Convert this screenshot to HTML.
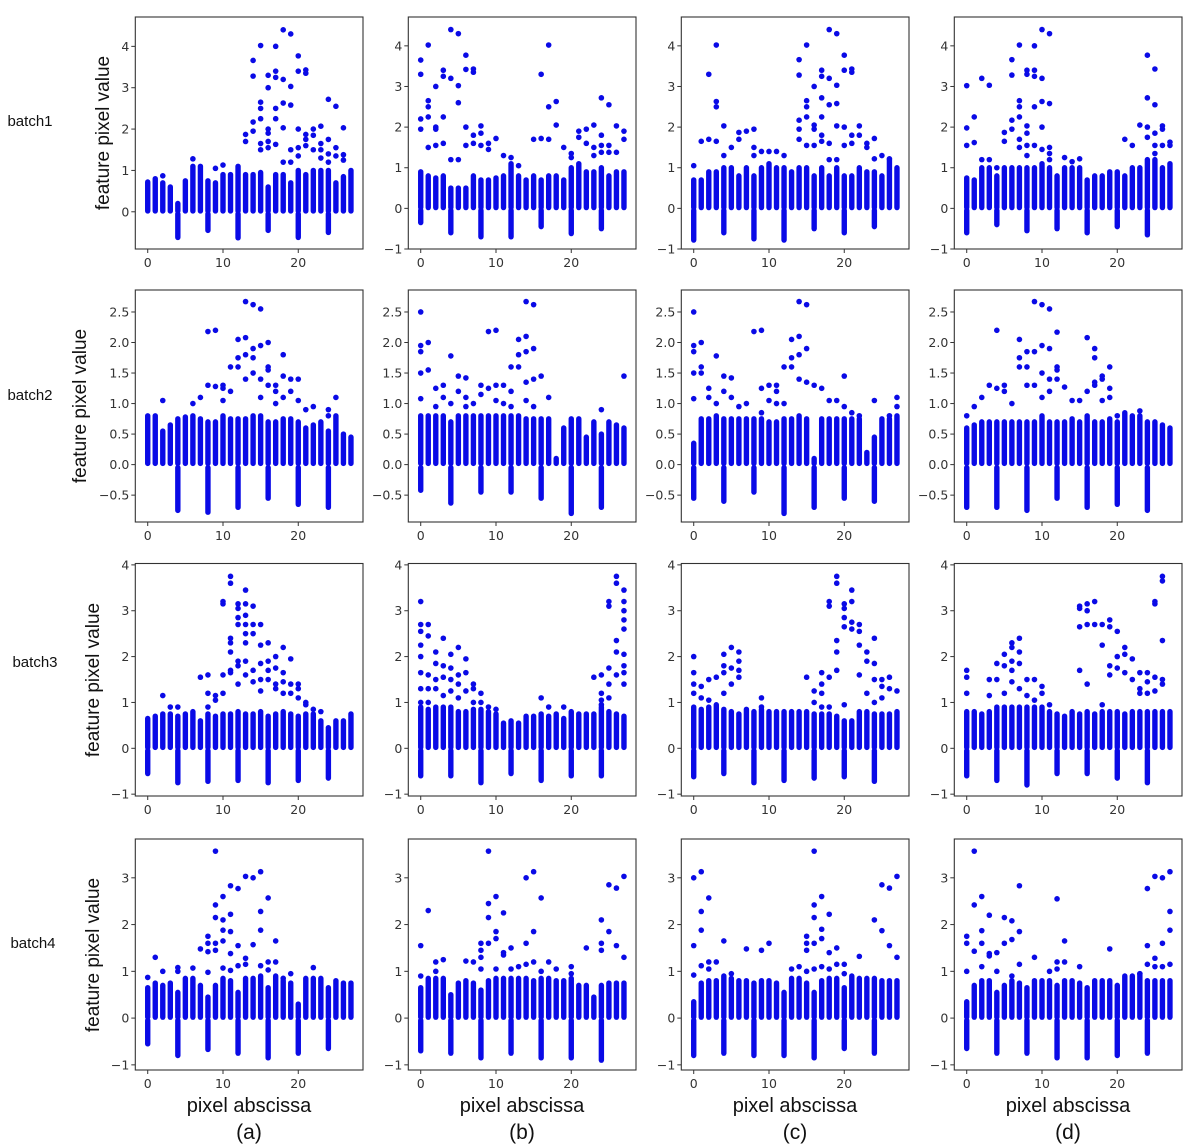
<!DOCTYPE html>
<html><head><meta charset="utf-8"><style>
html,body{margin:0;padding:0;background:#fff;}
svg{display:block;font-family:"DejaVu Sans","Liberation Sans",sans-serif;}
</style></head><body>
<svg id="fig" width="1200" height="1146" viewBox="0 0 1200 1146" xmlns="http://www.w3.org/2000/svg">
<g id="labels" font-family="'Liberation Sans','DejaVu Sans',sans-serif" fill="#111">
<text x="30" y="126" font-size="15" text-anchor="middle">batch1</text>
<text x="30" y="400" font-size="15" text-anchor="middle">batch2</text>
<text x="35" y="667" font-size="15" text-anchor="middle">batch3</text>
<text x="33" y="948" font-size="15" text-anchor="middle">batch4</text>
<text transform="translate(109,133) rotate(-90)" font-size="19" text-anchor="middle">feature pixel value</text>
<text transform="translate(86,406) rotate(-90)" font-size="19" text-anchor="middle">feature pixel value</text>
<text transform="translate(99,680) rotate(-90)" font-size="19" text-anchor="middle">feature pixel value</text>
<text transform="translate(99,955) rotate(-90)" font-size="19" text-anchor="middle">feature pixel value</text>
<text x="249" y="1112" font-size="20" text-anchor="middle">pixel abscissa</text>
<text x="522" y="1112" font-size="20" text-anchor="middle">pixel abscissa</text>
<text x="795" y="1112" font-size="20" text-anchor="middle">pixel abscissa</text>
<text x="1068" y="1112" font-size="20" text-anchor="middle">pixel abscissa</text>
<text x="249" y="1139" font-size="21" text-anchor="middle">(a)</text>
<text x="522" y="1139" font-size="21" text-anchor="middle">(b)</text>
<text x="795" y="1139" font-size="21" text-anchor="middle">(c)</text>
<text x="1068" y="1139" font-size="21" text-anchor="middle">(d)</text>
</g>
</svg>
<script>
// ---- data ----
const hi_a1=[.72,.8,.7,.6,.2,.75,1.1,1.1,.75,.7,.9,.9,1.1,.9,.9,.95,.6,.9,.9,.7,1.0,.9,1.0,1.0,1.0,.7,.85,1.0];
const neg_a1=[[4,-0.62],[8,-0.45],[12,-0.63],[16,-0.45],[20,-0.62],[24,-0.5]];
const out_a1=[[2,.87],[6,1.28],[9,1.05],[10,1.13],[13,1.87],[13,1.7],[14,3.66],[14,3.28],[14,2.17],[14,1.95],[15,4.02],[15,2.65],[15,2.5],[15,2.25],[15,1.65],[15,1.5],[16,3.3],[16,3.0],[16,2.0],[16,1.9],[16,1.7],[16,1.55],[17,4.0],[17,3.4],[17,3.25],[17,2.5],[17,2.25],[17,1.63],[18,4.4],[18,3.2],[18,2.63],[18,2.03],[18,1.2],[19,4.3],[19,3.03],[19,2.58],[19,1.5],[19,1.2],[20,3.77],[20,3.4],[20,2.0],[20,1.55],[20,1.35],[21,3.43],[21,3.35],[21,1.87],[21,1.75],[21,1.6],[22,2.0],[22,1.85],[22,1.5],[23,2.07],[23,1.65],[23,1.5],[23,1.3],[24,2.72],[24,1.75],[24,1.4],[24,1.2],[25,2.55],[25,1.55],[25,1.35],[26,2.03],[26,1.38],[26,1.25]];

const hi_b1=[.9,.8,.75,.8,.5,.5,.5,.8,.7,.7,.75,.8,1.1,.8,.7,.8,.7,.8,.8,.7,1.0,1.1,.9,.9,1.0,.8,.9,.9];
const neg_b1=[[0,-0.35],[4,-0.6],[8,-0.7],[12,-0.7],[16,-0.45],[20,-0.62],[24,-0.5]];
const out_b1=[[0,3.65],[0,3.3],[0,2.2],[0,1.95],[1,4.02],[1,2.65],[1,2.5],[1,2.25],[1,1.5],[2,3.0],[2,2.0],[2,1.95],[2,1.55],[3,3.4],[3,3.25],[3,2.25],[3,1.6],[4,4.4],[4,3.2],[4,1.2],[5,4.3],[5,3.02],[5,2.6],[5,1.2],[6,3.77],[6,3.42],[6,2.0],[6,1.55],[7,3.43],[7,3.35],[7,1.8],[7,1.6],[8,2.03],[8,1.85],[8,1.55],[9,1.6],[9,1.45],[10,1.72],[11,1.3],[12,1.25],[13,1.05],[15,1.7],[16,3.3],[16,1.72],[17,4.02],[17,2.5],[17,1.7],[18,2.63],[18,2.05],[19,1.5],[20,1.35],[20,1.25],[21,1.9],[21,1.75],[22,1.95],[22,1.6],[23,2.05],[23,1.5],[23,1.3],[24,2.72],[24,1.8],[24,1.55],[24,1.38],[25,2.55],[25,1.55],[25,1.38],[26,2.03],[26,1.38],[27,1.9],[27,1.7]];

const hi_c1=[.7,.7,.9,.9,1.0,1.0,.8,1.0,.8,1.0,1.1,1.0,1.0,.9,1.0,1.0,.8,1.0,.8,1.0,.8,.8,1.0,.9,.9,.8,1.2,1.0];
const neg_c1=[[0,-0.78],[4,-0.6],[8,-0.75],[12,-0.78],[16,-0.5],[20,-0.6],[24,-0.45]];
const out_c1=[[0,1.05],[1,1.65],[2,1.7],[2,3.3],[3,4.02],[3,2.5],[3,2.63],[3,1.65],[4,2.03],[4,1.3],[5,1.5],[6,1.7],[6,1.87],[7,1.9],[8,1.95],[8,1.5],[8,1.3],[9,1.4],[10,1.4],[11,1.4],[12,1.3],[14,3.66],[14,3.28],[14,2.17],[14,1.95],[14,1.7],[15,4.02],[15,2.65],[15,2.5],[15,2.25],[15,1.55],[16,3.0],[16,2.05],[16,1.95],[16,1.55],[17,3.4],[17,3.25],[17,2.72],[17,2.25],[17,1.8],[17,1.65],[18,4.4],[18,3.2],[18,2.55],[18,1.6],[18,1.2],[19,4.3],[19,3.03],[19,2.58],[19,2.03],[19,1.2],[20,3.77],[20,3.4],[20,2.0],[20,1.55],[21,3.43],[21,3.35],[21,1.8],[21,1.6],[22,2.03],[22,1.8],[23,1.6],[23,1.5],[24,1.72],[24,1.22],[25,1.3],[26,1.22]];

const hi_d1=[.75,.7,1.0,1.0,.8,1.0,1.0,1.0,1.0,1.0,1.1,1.0,.8,1.0,1.0,1.0,.7,.8,.8,.9,.9,.8,1.0,1.0,1.2,1.2,1.0,1.1];
const neg_d1=[[0,-0.6],[4,-0.4],[8,-0.55],[12,-0.5],[16,-0.6],[20,-0.45],[24,-0.65]];
const out_d1=[[0,3.02],[0,1.98],[0,1.55],[1,2.25],[1,1.62],[2,3.2],[2,1.2],[3,3.03],[3,1.2],[4,1.0],[5,1.87],[5,1.65],[6,3.66],[6,3.28],[6,2.17],[6,1.95],[7,4.02],[7,2.65],[7,2.5],[7,2.25],[7,1.7],[7,1.5],[8,3.4],[8,3.3],[8,2.03],[8,1.85],[8,1.55],[8,1.3],[9,4.0],[9,3.4],[9,3.25],[9,2.5],[9,1.55],[10,4.4],[10,3.2],[10,2.63],[10,2.0],[10,1.45],[11,4.3],[11,2.58],[11,1.5],[11,1.35],[11,1.2],[13,1.25],[14,1.15],[15,1.22],[21,1.7],[22,1.55],[23,2.05],[24,3.77],[24,2.72],[24,2.0],[24,1.75],[25,3.43],[25,2.55],[25,1.85],[25,1.55],[25,1.35],[26,2.03],[26,1.95],[26,1.55],[27,1.63],[27,1.55]];

const hi_a2=[.8,.8,.55,.65,.75,.78,.8,.75,.7,.7,.8,.75,.75,.75,.8,.8,.7,.7,.75,.75,.7,.6,.65,.7,.55,.8,.5,.45];
const neg_a2=[[4,-0.75],[8,-0.78],[12,-0.7],[16,-0.55],[20,-0.65],[24,-0.7]];
const out_a2=[[2,1.05],[6,1.0],[7,1.1],[8,1.3],[8,2.18],[9,2.2],[9,1.28],[10,1.3],[10,1.25],[10,1.05],[11,1.2],[11,1.6],[12,1.6],[12,2.05],[12,1.75],[13,2.08],[13,1.8],[13,2.67],[13,1.4],[14,2.62],[14,1.9],[14,1.75],[14,1.5],[15,2.55],[15,1.95],[15,1.4],[15,1.1],[16,1.6],[16,1.55],[16,2.0],[16,1.3],[17,1.3],[17,1.2],[17,1.0],[18,1.8],[18,1.45],[18,1.1],[19,1.4],[19,1.2],[20,1.4],[20,1.05],[21,0.9],[22,0.95],[24,0.8],[24,0.9],[25,1.1]];

const hi_b2=[.8,.8,.8,.8,.7,.8,.8,.8,.8,.8,.8,.8,.8,.8,.75,.75,.75,.75,.1,.6,.75,.75,.45,.7,.5,.7,.65,.6];
const neg_b2=[[0,-0.42],[4,-0.63],[8,-0.45],[12,-0.45],[16,-0.55],[20,-0.8],[24,-0.7]];
const out_b2=[[0,2.5],[0,1.95],[0,1.85],[0,1.5],[0,1.08],[1,2.0],[1,1.55],[2,1.25],[2,0.95],[3,1.3],[3,1.1],[4,1.78],[4,1.0],[5,1.45],[5,1.2],[6,1.42],[6,1.1],[6,0.95],[7,1.0],[8,1.3],[8,1.15],[9,2.18],[9,1.25],[10,2.2],[10,1.3],[10,1.05],[11,1.3],[11,1.0],[12,1.6],[12,1.2],[12,0.95],[13,2.05],[13,1.8],[13,1.6],[14,2.67],[14,2.1],[14,1.85],[14,1.35],[14,1.05],[15,2.62],[15,1.9],[15,1.4],[15,0.95],[16,1.45],[17,1.1],[24,0.9],[27,1.45]];

const hi_c2=[.35,.75,.75,.8,.75,.75,.75,.75,.75,.75,.7,.7,.75,.75,.8,.75,.1,.75,.75,.75,.75,.75,.75,.2,.45,.75,.75,.8];
const neg_c2=[[0,-0.55],[4,-0.6],[8,-0.45],[12,-0.8],[16,-0.7],[20,-0.55],[24,-0.6]];
const out_c2=[[0,2.5],[0,1.95],[0,1.85],[0,1.5],[0,1.08],[1,2.0],[1,1.6],[1,1.5],[2,1.25],[2,1.1],[3,1.78],[3,1.0],[4,1.45],[4,1.2],[5,1.42],[5,1.1],[6,0.95],[7,1.0],[8,2.18],[9,2.2],[9,1.25],[9,0.85],[10,1.3],[10,1.05],[11,1.3],[11,1.2],[11,1.0],[12,1.6],[12,1.0],[13,2.05],[13,1.75],[13,1.6],[14,2.67],[14,2.1],[14,1.8],[14,1.4],[15,2.62],[15,1.9],[15,1.35],[16,1.3],[17,1.25],[18,1.05],[19,1.05],[20,1.45],[20,0.95],[21,0.85],[22,0.8],[24,1.05],[27,1.1],[27,0.95],[26,0.8]];

const hi_d2=[.6,.65,.7,.7,.7,.7,.7,.7,.7,.7,.8,.7,.7,.7,.75,.7,.8,.7,.7,.75,.7,.85,.8,.8,.7,.7,.65,.6];
const neg_d2=[[0,-0.7],[4,-0.7],[8,-0.75],[12,-0.55],[16,-0.7],[20,-0.65],[24,-0.75]];
const out_d2=[[0,0.8],[1,0.95],[2,1.1],[3,1.3],[4,2.2],[4,1.25],[5,1.3],[5,1.2],[6,1.0],[7,1.6],[7,1.75],[7,2.05],[8,1.6],[8,1.85],[8,1.3],[9,2.67],[9,1.85],[9,1.3],[10,2.62],[10,1.95],[10,1.5],[10,1.1],[11,2.55],[11,1.9],[11,1.4],[11,1.2],[12,2.17],[12,1.6],[12,1.55],[12,1.4],[13,1.27],[14,1.05],[15,1.05],[16,1.2],[16,2.08],[17,1.9],[17,1.75],[17,1.35],[17,1.3],[18,1.45],[18,1.4],[18,1.05],[19,1.6],[19,1.25],[19,1.1],[20,0.8],[23,0.88]];

const hi_a3=[.65,.7,.75,.75,.7,.75,.8,.6,.75,.7,.75,.75,.8,.75,.75,.8,.7,.75,.8,.75,.7,.75,.75,.6,.45,.6,.6,.75];
const neg_a3=[[0,-0.55],[4,-0.75],[8,-0.72],[12,-0.7],[16,-0.75],[20,-0.7],[24,-0.65]];
const out_a3=[[2,1.15],[3,0.9],[4,0.9],[7,1.55],[8,1.6],[8,1.2],[8,0.9],[9,1.05],[9,1.15],[10,1.6],[10,1.2],[10,3.2],[10,3.15],[11,3.75],[11,3.6],[11,2.4],[11,2.3],[11,2.1],[11,1.7],[11,1.65],[12,3.15],[12,3.05],[12,2.85],[12,2.7],[12,1.9],[12,1.8],[12,1.4],[13,3.45],[13,3.15],[13,2.9],[13,2.7],[13,2.5],[13,2.3],[13,1.9],[13,1.6],[14,3.1],[14,2.7],[14,2.5],[14,1.7],[14,1.45],[15,2.7],[15,2.25],[15,1.85],[15,1.5],[15,1.25],[16,2.3],[16,1.9],[16,1.7],[16,1.5],[17,2.0],[17,1.75],[17,1.4],[17,1.3],[18,2.2],[18,1.65],[18,1.45],[18,1.2],[19,1.95],[19,1.4],[19,1.2],[20,1.4],[20,1.3],[20,1.1],[21,1.0],[21,0.95],[22,0.85],[23,0.8]];

const hi_b3=[.9,.85,.9,.9,.9,.8,.8,.85,.85,.8,.75,.55,.6,.55,.7,.7,.75,.7,.75,.65,.8,.75,.75,.75,.9,.8,.75,.7];
const neg_b3=[[0,-0.6],[4,-0.6],[8,-0.75],[12,-0.55],[16,-0.7],[20,-0.6],[24,-0.6]];
const out_b3=[[0,3.2],[0,2.7],[0,2.55],[0,2.25],[0,2.0],[0,1.65],[0,1.3],[0,1.0],[1,2.7],[1,2.45],[1,1.6],[1,1.3],[1,1.0],[2,2.1],[2,1.85],[2,1.5],[2,1.3],[3,2.4],[3,1.8],[3,1.55],[3,1.15],[4,2.05],[4,1.75],[4,1.5],[4,1.25],[5,2.2],[5,1.6],[5,1.4],[5,1.1],[6,1.95],[6,1.65],[6,1.25],[7,1.4],[7,1.3],[7,1.0],[8,1.2],[8,1.0],[9,0.9],[10,0.85],[16,1.1],[17,0.9],[19,0.9],[23,1.55],[24,1.6],[24,1.2],[24,1.05],[24,0.95],[25,3.2],[25,3.1],[25,1.75],[25,1.4],[25,1.1],[26,3.75],[26,3.6],[26,2.35],[26,2.1],[26,1.6],[27,3.45],[27,3.2],[27,3.0],[27,2.8],[27,2.6],[27,2.05],[27,1.8],[27,1.65],[27,1.4]];

const hi_c3=[.9,.85,.9,.95,.85,.8,.75,.85,.8,.85,.8,.8,.8,.8,.8,.8,.75,.75,.75,.7,.6,.6,.8,.8,.75,.75,.75,.8];
const neg_c3=[[0,-0.62],[4,-0.55],[8,-0.75],[12,-0.7],[16,-0.65],[20,-0.62],[24,-0.72]];
const out_c3=[[0,2.0],[0,1.65],[0,1.4],[0,1.2],[1,1.35],[1,1.1],[2,1.5],[2,1.05],[3,1.55],[4,2.05],[4,1.8],[4,1.65],[4,1.2],[5,2.2],[5,1.75],[5,1.4],[6,2.1],[6,1.9],[6,1.7],[6,1.55],[9,1.1],[9,0.9],[15,1.55],[16,1.25],[16,1.0],[17,1.65],[17,1.4],[17,1.2],[17,0.9],[18,3.2],[18,3.1],[18,1.55],[18,0.9],[19,3.75],[19,3.6],[19,2.35],[19,2.1],[19,1.7],[20,3.15],[20,3.05],[20,2.85],[20,2.65],[20,0.95],[21,3.45],[21,3.2],[21,2.75],[21,2.6],[22,2.7],[22,2.55],[22,2.25],[22,1.6],[23,2.1],[23,1.9],[23,1.2],[24,2.4],[24,1.85],[24,1.5],[24,1.0],[25,1.5],[25,1.35],[25,1.1],[26,1.55],[26,1.3],[27,1.25]];

const hi_d3=[.8,.8,.75,.8,.9,.9,.9,.9,.9,.9,.9,.8,.75,.7,.8,.75,.8,.75,.8,.8,.8,.75,.8,.8,.8,.8,.8,.8];
const neg_d3=[[0,-0.6],[4,-0.7],[8,-0.8],[12,-0.55],[16,-0.55],[20,-0.65],[24,-0.75]];
const out_d3=[[0,1.7],[0,1.55],[0,1.2],[3,1.5],[3,1.15],[4,1.85],[4,1.5],[5,2.05],[5,1.8],[5,1.2],[6,2.3],[6,2.2],[6,1.9],[6,1.7],[6,1.45],[7,2.4],[7,2.1],[7,1.85],[7,1.3],[8,1.5],[8,1.15],[9,1.5],[9,1.05],[10,1.35],[10,1.2],[11,0.95],[15,1.7],[15,2.65],[15,3.1],[15,3.05],[16,3.15],[16,3.0],[16,2.7],[16,1.4],[17,3.2],[17,2.7],[18,2.25],[18,2.7],[18,0.95],[19,2.8],[19,2.65],[19,1.8],[19,1.6],[20,2.55],[20,2.0],[20,1.75],[21,2.2],[21,2.05],[21,1.65],[22,1.95],[22,1.5],[23,1.65],[23,1.3],[23,1.2],[24,1.65],[24,1.45],[24,1.2],[25,3.2],[25,3.15],[25,1.55],[25,1.25],[26,3.75],[26,3.65],[26,2.35],[26,1.5],[26,1.4]];

const hi_a4=[.65,.75,.7,.75,.55,.85,.85,.7,.45,.7,.85,.8,.55,.85,.85,.9,.65,.9,.8,.75,.3,.85,.85,.85,.65,.8,.75,.75];
const neg_a4=[[0,-0.55],[4,-0.8],[8,-0.67],[12,-0.75],[16,-0.85],[20,-0.75],[24,-0.65]];
const out_a4=[[0,0.87],[1,1.3],[2,1.0],[4,1.08],[4,1.0],[6,1.07],[7,1.48],[8,1.75],[8,1.6],[8,1.42],[8,0.98],[9,3.57],[9,2.42],[9,2.15],[9,1.6],[9,1.45],[10,2.6],[10,2.1],[10,1.88],[10,1.65],[10,1.07],[11,2.83],[11,2.22],[11,1.85],[11,1.38],[11,1.02],[12,2.77],[12,1.55],[12,1.12],[13,3.03],[13,1.28],[13,1.15],[14,3.0],[14,1.57],[15,3.13],[15,2.28],[15,1.88],[15,1.12],[16,2.57],[16,1.2],[16,1.03],[17,1.65],[17,1.2],[18,0.85],[19,0.95],[22,1.08]];

const hi_b4=[.65,.85,.85,.85,.5,.75,.8,.75,.6,.8,.85,.85,.85,.85,.85,.8,.85,.85,.8,.8,.85,.7,.7,.45,.7,.75,.75,.75];
const neg_b4=[[0,-0.7],[4,-0.75],[8,-0.85],[12,-0.75],[16,-0.85],[20,-0.85],[24,-0.9]];
const out_b4=[[0,1.55],[0,0.9],[1,2.3],[2,1.2],[2,1.0],[3,1.25],[6,1.22],[7,1.2],[8,1.6],[8,1.45],[8,1.3],[8,1.05],[9,3.57],[9,2.45],[9,2.15],[9,1.6],[10,2.6],[10,1.85],[10,1.7],[10,1.05],[11,2.25],[11,1.4],[11,1.35],[12,1.5],[12,1.05],[13,1.1],[14,3.0],[14,1.6],[14,1.15],[15,3.13],[15,1.85],[15,1.2],[16,2.57],[16,1.0],[17,1.2],[18,1.05],[20,1.1],[20,0.95],[22,1.5],[24,1.45],[24,1.6],[24,2.1],[25,2.85],[25,1.85],[26,2.78],[26,1.55],[27,3.03],[27,1.3]];

const hi_c4=[.35,.75,.8,.8,.9,.85,.8,.8,.75,.8,.8,.75,.55,.85,.85,.75,.55,.8,.85,.85,.65,.9,.85,.85,.85,.8,.8,.8];
const neg_c4=[[0,-0.8],[4,-0.75],[8,-0.8],[12,-0.8],[16,-0.85],[20,-0.65],[24,-0.75]];
const out_c4=[[0,3.0],[0,1.55],[0,0.92],[1,3.13],[1,2.28],[1,1.88],[1,1.12],[2,2.57],[2,1.2],[2,1.05],[3,1.2],[4,1.65],[5,0.95],[7,1.48],[9,1.45],[10,1.6],[13,1.05],[14,1.1],[15,1.75],[15,1.6],[15,1.45],[15,1.0],[16,3.57],[16,2.42],[16,2.15],[16,1.6],[16,1.05],[17,2.6],[17,1.9],[17,1.7],[17,1.1],[18,2.22],[18,1.4],[18,1.05],[19,1.5],[19,1.15],[20,1.15],[20,0.95],[22,1.32],[24,2.1],[25,2.85],[25,1.87],[26,2.78],[26,1.55],[27,3.03],[27,1.3]];

const hi_d4=[.35,.7,.8,.8,.55,.7,.8,.75,.65,.8,.8,.8,.7,.8,.8,.75,.65,.8,.8,.8,.7,.9,.9,.95,.8,.8,.8,.8];
const neg_d4=[[0,-0.65],[4,-0.75],[8,-0.75],[12,-0.85],[16,-0.85],[20,-0.8],[24,-0.75]];
const out_d4=[[0,1.75],[0,1.6],[0,1.0],[1,3.57],[1,2.42],[1,1.43],[2,2.6],[2,1.87],[2,1.6],[2,1.1],[3,2.2],[3,1.38],[3,1.33],[4,1.4],[4,1.0],[5,2.15],[5,1.6],[6,2.08],[6,1.68],[6,0.9],[7,2.83],[7,1.85],[7,1.15],[9,1.3],[11,1.0],[12,2.55],[12,1.2],[12,1.05],[13,1.65],[13,1.2],[15,1.1],[19,1.48],[23,0.95],[24,2.77],[24,1.55],[24,1.15],[25,3.03],[25,1.28],[25,1.1],[26,3.0],[26,1.6],[26,1.1],[27,3.13],[27,2.28],[27,1.88],[27,1.15]];

const xTicks=[0,10,20];
const yTicks_r1a=[0,1,2,3,4];
const yTicks_r1=[-1,0,1,2,3,4];
const yTicks_r2=[-0.5,0,0.5,1.0,1.5,2.0,2.5];
const yTicks_r3=[-1,0,1,2,3,4];
const yTicks_r4=[-1,0,1,2,3];
const yLabels_r2=["\u22120.5","0.0","0.5","1.0","1.5","2.0","2.5"];

// ---- layout ----
const NS="http://www.w3.org/2000/svg";
const svg=document.getElementById('fig');
const colX=[135.3,408.3,681.3,954.3], colW=227.7;
const rowGeom=[{t:17,b:249,ylo:-1.0,yhi:4.71},{t:290,b:522,ylo:-0.94,yhi:2.86},{t:563.5,b:796,ylo:-1.04,yhi:4.03},{t:839,b:1070,ylo:-1.11,yhi:3.83}];
const XLO=-1.65, XHI=28.6, COLOR="#0a0ae6";
const panels=[
 {r:0,c:0,id:'a1',hi:hi_a1,neg:neg_a1,out:out_a1,yt:yTicks_r1a,ylo:-0.9},
 {r:0,c:1,id:'b1',hi:hi_b1,neg:neg_b1,out:out_b1,yt:yTicks_r1},
 {r:0,c:2,id:'c1',hi:hi_c1,neg:neg_c1,out:out_c1,yt:yTicks_r1},
 {r:0,c:3,id:'d1',hi:hi_d1,neg:neg_d1,out:out_d1,yt:yTicks_r1},
 {r:1,c:0,id:'a2',hi:hi_a2,neg:neg_a2,out:out_a2,yt:yTicks_r2,yl:yLabels_r2},
 {r:1,c:1,id:'b2',hi:hi_b2,neg:neg_b2,out:out_b2,yt:yTicks_r2,yl:yLabels_r2},
 {r:1,c:2,id:'c2',hi:hi_c2,neg:neg_c2,out:out_c2,yt:yTicks_r2,yl:yLabels_r2},
 {r:1,c:3,id:'d2',hi:hi_d2,neg:neg_d2,out:out_d2,yt:yTicks_r2,yl:yLabels_r2},
 {r:2,c:0,id:'a3',hi:hi_a3,neg:neg_a3,out:out_a3,yt:yTicks_r3},
 {r:2,c:1,id:'b3',hi:hi_b3,neg:neg_b3,out:out_b3,yt:yTicks_r3},
 {r:2,c:2,id:'c3',hi:hi_c3,neg:neg_c3,out:out_c3,yt:yTicks_r3},
 {r:2,c:3,id:'d3',hi:hi_d3,neg:neg_d3,out:out_d3,yt:yTicks_r3},
 {r:3,c:0,id:'a4',hi:hi_a4,neg:neg_a4,out:out_a4,yt:yTicks_r4},
 {r:3,c:1,id:'b4',hi:hi_b4,neg:neg_b4,out:out_b4,yt:yTicks_r4},
 {r:3,c:2,id:'c4',hi:hi_c4,neg:neg_c4,out:out_c4,yt:yTicks_r4},
 {r:3,c:3,id:'d4',hi:hi_d4,neg:neg_d4,out:out_d4,yt:yTicks_r4}
];
function mk(tag,attrs,parent){const e=document.createElementNS(NS,tag);for(const k in attrs)e.setAttribute(k,attrs[k]);parent.appendChild(e);return e;}
function fmt(v){return v<0?"\u2212"+Math.abs(v):String(v);}

panels.forEach(p=>{
  const g=rowGeom[p.r];
  const x0=colX[p.c], x1=x0+colW, t=g.t, b=g.b;
  const ylo=(p.ylo!==undefined)?p.ylo:g.ylo, yhi=g.yhi;
  const sx=v=>x0+(v-XLO)/(XHI-XLO)*(x1-x0);
  const sy=v=>b-(v-ylo)/(yhi-ylo)*(b-t);
  const grp=mk('g',{},svg);
  
  
  // bands
  p.hi.forEach((h,i)=>{
    const l=mk('line',{x1:sx(i),x2:sx(i),y1:sy(0.02),y2:sy(h),stroke:COLOR,'stroke-width':5.4,'stroke-linecap':'round'},grp);
    
    
  });
  p.neg.forEach(n=>{
    const l=mk('line',{x1:sx(n[0]),x2:sx(n[0]),y1:sy(-0.05),y2:sy(n[1]),stroke:COLOR,'stroke-width':5.4,'stroke-linecap':'round'},grp);
    
    
  });
  p.out.forEach(o=>{
    const c=mk('circle',{cx:sx(o[0]),cy:sy(o[1]),r:2.8,fill:COLOR},grp);
    
    
  });
  // frame
  const fr=mk('rect',{x:x0,y:t,width:colW,height:b-t,fill:'none',stroke:'#333','stroke-width':1.1},grp);
  
  
  // x ticks
  xTicks.forEach(v=>{
    mk('line',{x1:sx(v),x2:sx(v),y1:b,y2:b+4,stroke:'#333','stroke-width':1},grp);
    const tx=mk('text',{x:sx(v),y:b+18,'font-size':12.5,'text-anchor':'middle',fill:'#333'},grp);
    tx.textContent=String(v);
    
    
  });
  // y ticks
  p.yt.forEach((v,i)=>{
    mk('line',{x1:x0-4,x2:x0,y1:sy(v),y2:sy(v),stroke:'#333','stroke-width':1},grp);
    const ty=mk('text',{x:x0-6,y:sy(v)+4.5,'font-size':12.5,'text-anchor':'end',fill:'#333'},grp);
    ty.textContent=p.yl?p.yl[i]:fmt(v);
    
    
  });
});
</script>
</body></html>
